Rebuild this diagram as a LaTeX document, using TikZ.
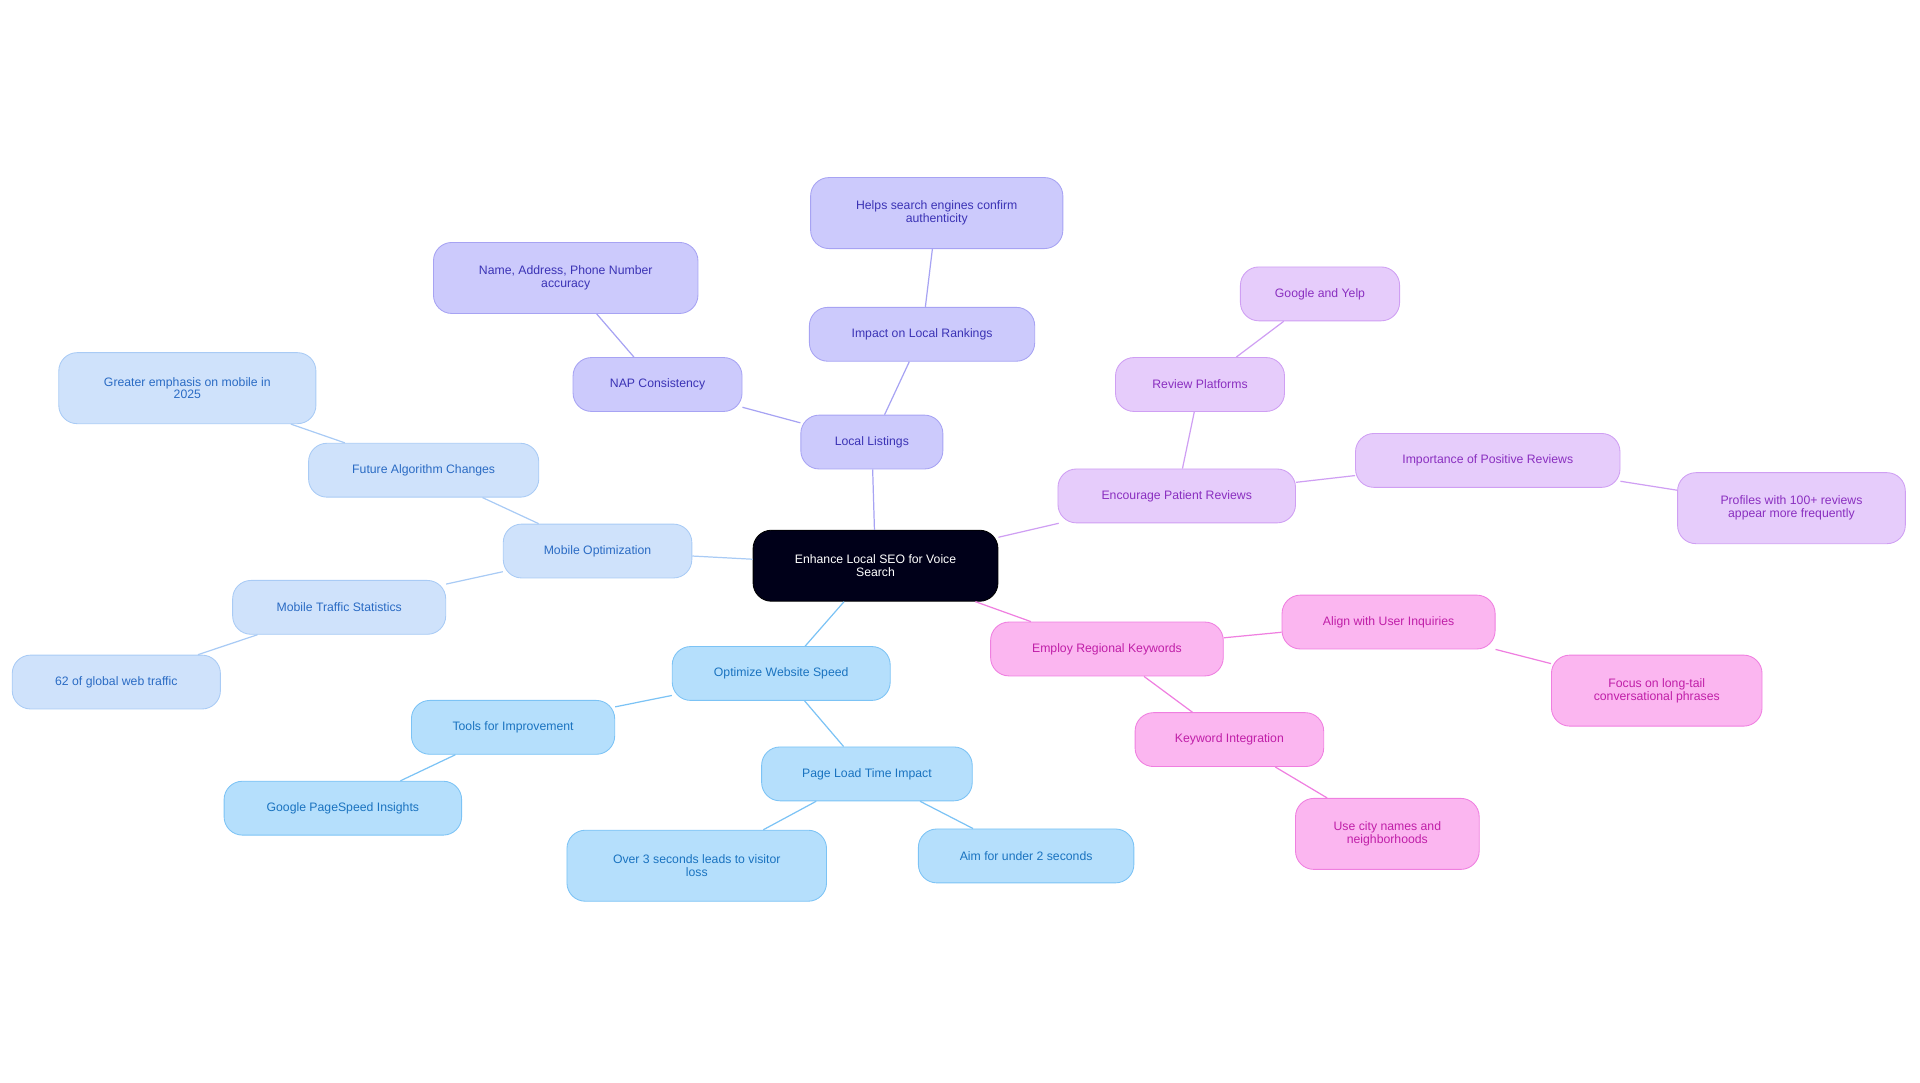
\documentclass[tikz,border=0pt]{standalone}
\usepackage{fontspec}
\setmainfont{Liberation Sans}
\begin{document}
\begin{tikzpicture}[x=1pt,y=-1pt,
 base/.style={draw,rounded corners=15pt,align=center,inner sep=0pt,font=\fontsize{10}{10.5}\selectfont,line width=0.7pt},
 bx/.style n args={2}{base,minimum width=#1pt,minimum height=#2pt},
 cen/.style={base,fill=black!90!blue,draw=black,text=white},
 mob/.style={fill=mobF,draw=mobD,text=mobT},
 spd/.style={fill=spdF,draw=spdD,text=spdT},
 loc/.style={fill=locF,draw=locD,text=locT},
 rev/.style={fill=revF,draw=revD,text=revT},
 key/.style={fill=keyF,draw=keyD,text=keyT},
 ln/.style={line width=1pt}]
\definecolor{mobF}{HTML}{CFE2FB}\definecolor{mobD}{HTML}{A9CBF5}\definecolor{mobT}{HTML}{2A6BC4}
\definecolor{spdF}{HTML}{B5DFFC}\definecolor{spdD}{HTML}{7CC3F5}\definecolor{spdT}{HTML}{1A73C0}
\definecolor{locF}{HTML}{CCCAFC}\definecolor{locD}{HTML}{A7A3F3}\definecolor{locT}{HTML}{3B33B5}
\definecolor{revF}{HTML}{E6CCFB}\definecolor{revD}{HTML}{CF9FF3}\definecolor{revT}{HTML}{8A2FC0}
\definecolor{keyF}{HTML}{FBB6F0}\definecolor{keyD}{HTML}{EF7FE0}\definecolor{keyT}{HTML}{C01FA8}
\useasboundingbox (0,0) rectangle (1568,884);
\node[cen,bx={200}{58}] (c) at (715,462) {Enhance Local SEO for Voice\\Search};
\node[bx={116}{44},loc] (ll) at (712,361) {Local Listings};
\node[bx={138}{44},loc] (nap) at (537,314) {NAP Consistency};
\node[bx={216}{58},loc] (name) at (462,227) {Name, Address, Phone Number\\accuracy};
\node[bx={184}{44},loc] (imp) at (753,273) {Impact on Local Rankings};
\node[bx={206}{58},loc] (help) at (765,174) {Helps search engines confirm\\authenticity};
\node[bx={194}{44},rev] (enc) at (961,405) {Encourage Patient Reviews};
\node[bx={138}{44},rev] (rp) at (980,314) {Review Platforms};
\node[bx={130}{44},rev] (gy) at (1078,240) {Google and Yelp};
\node[bx={216}{44},rev] (ipr) at (1215,376) {Importance of Positive Reviews};
\node[bx={186}{58},rev] (prof) at (1463,415) {Profiles with 100+ reviews\\appear more frequently};
\node[bx={190}{44},key] (erk) at (904,530) {Employ Regional Keywords};
\node[bx={174}{44},key] (aui) at (1134,508) {Align with User Inquiries};
\node[bx={172}{58},key] (flt) at (1353,564) {Focus on long-tail\\conversational phrases};
\node[bx={154}{44},key] (ki) at (1004,604) {Keyword Integration};
\node[bx={150}{58},key] (ucn) at (1133,681) {Use city names and\\neighborhoods};
\node[bx={178}{44},spd] (ows) at (638,550) {Optimize Website Speed};
\node[bx={166}{44},spd] (tfi) at (419,594) {Tools for Improvement};
\node[bx={194}{44},spd] (gps) at (280,660) {Google PageSpeed Insights};
\node[bx={172}{44},spd] (plt) at (708,632) {Page Load Time Impact};
\node[bx={212}{58},spd] (o3) at (569,707) {Over 3 seconds leads to visitor\\loss};
\node[bx={176}{44},spd] (a2) at (838,699) {Aim for under 2 seconds};
\node[bx={154}{44},mob] (mo) at (488,450) {Mobile Optimization};
\node[bx={188}{44},mob] (fac) at (346,384) {Future Algorithm Changes};
\node[bx={210}{58},mob] (ge) at (153,317) {Greater emphasis on mobile in\\2025};
\node[bx={174}{44},mob] (mts) at (277,496) {Mobile Traffic Statistics};
\node[bx={170}{44},mob] (g62) at (95,557) {62 of global web traffic};
\begin{scope}[on background layer/.try]
\end{scope}
\begin{pgfinterruptboundingbox}
\draw[ln,locD] (c) -- (ll); \draw[ln,locD] (ll) -- (nap); \draw[ln,locD] (nap) -- (name);
\draw[ln,locD] (ll) -- (imp); \draw[ln,locD] (imp) -- (help);
\draw[ln,revD] (c) -- (enc); \draw[ln,revD] (enc) -- (rp); \draw[ln,revD] (rp) -- (gy);
\draw[ln,revD] (enc) -- (ipr); \draw[ln,revD] (ipr) -- (prof);
\draw[ln,keyD] (c) -- (erk); \draw[ln,keyD] (erk) -- (aui); \draw[ln,keyD] (aui) -- (flt);
\draw[ln,keyD] (erk) -- (ki); \draw[ln,keyD] (ki) -- (ucn);
\draw[ln,spdD] (c) -- (ows); \draw[ln,spdD] (ows) -- (tfi); \draw[ln,spdD] (tfi) -- (gps);
\draw[ln,spdD] (ows) -- (plt); \draw[ln,spdD] (plt) -- (o3); \draw[ln,spdD] (plt) -- (a2);
\draw[ln,mobD] (c) -- (mo); \draw[ln,mobD] (mo) -- (fac); \draw[ln,mobD] (fac) -- (ge);
\draw[ln,mobD] (mo) -- (mts); \draw[ln,mobD] (mts) -- (g62);
\end{pgfinterruptboundingbox}
\end{tikzpicture}
\end{document}
